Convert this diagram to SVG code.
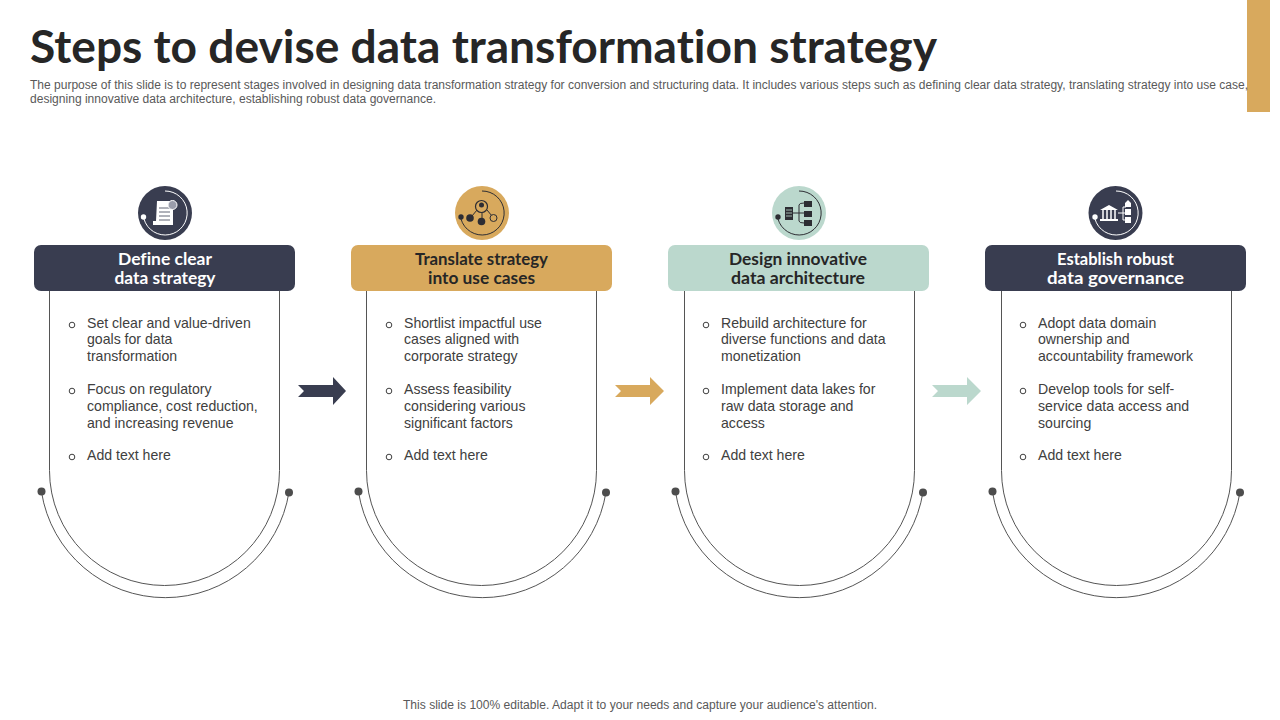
<svg xmlns="http://www.w3.org/2000/svg" width="1280" height="720" viewBox="0 0 1280 720">
<style>
text{font-family:"Liberation Sans",Arial,sans-serif;font-variant-ligatures:none}
.title{font-family:Lato,"Liberation Sans",sans-serif;font-weight:700;font-size:46px;fill:#262626}
.sub{font-size:12px;fill:#595959}
.foot{font-size:12px;fill:#595959}
.head{font-family:Lato,"Liberation Sans",sans-serif;font-weight:700;font-size:17px;text-anchor:middle}
.body{font-size:14.1px;fill:#404040}
.bul{fill:none;stroke:#404040;stroke-width:1}
.line{fill:none;stroke:#555;stroke-width:1}
.dot{fill:#4d4d4d}
</style>
<defs>
<g id="shell">
<path class="line" d="M41.500 492A125.300 125.300 0 0 0 289 492"/>
<circle class="dot" cx="41.500" cy="491.500" r="4"/>
<circle class="dot" cx="289" cy="492.500" r="4"/>
<circle class="bul" cx="72" cy="325" r="2.800"/>
<circle class="bul" cx="72" cy="391" r="2.800"/>
<circle class="bul" cx="72" cy="457" r="2.800"/>
</g>
<path id="panel" class="line" d="M49.500 291V470.500A115 115 0 0 0 279.500 470.500V291"/>
</defs>
<rect x="1247" y="0" width="23" height="112" fill="#d8a95d"/>
<text class="title" x="30" y="63" textLength="907" lengthAdjust="spacingAndGlyphs">Steps to devise data transformation strategy</text>
<text class="sub" x="30" y="89" textLength="1218" lengthAdjust="spacingAndGlyphs">The purpose of this slide is to represent stages involved in designing data transformation strategy for conversion and structuring data. It includes various steps such as defining clear data strategy, translating strategy into use case,</text>
<text class="sub" x="30" y="103" textLength="406" lengthAdjust="spacingAndGlyphs">designing innovative data architecture, establishing robust data governance.</text>
<g id="connectors">
<path id="arrow1" d="M298 385H333V377L346 391L333 405V397H298L304 391Z" fill="#393d50"/>
<path id="arrow2" d="M615 385H650V377L664 391L650 405V397H615L621 391Z" fill="#d8a95d"/>
<path id="arrow3" d="M932 385H967V377L981 391L967 405V397H932L938 391Z" fill="#bbd8cd"/>
</g>
<g id="node1">
<use href="#shell"/>
<use href="#panel"/>
<circle cx="165" cy="213" r="27" fill="#393d50"/>
<path d="M165 191A22 22 0 1 1 144 219" fill="none" stroke="#fff" stroke-width="1"/>
<circle cx="143.500" cy="217" r="2.700" fill="#fff"/>
<path d="M157 201H171L173 205V225H153V221H156Z" fill="#fff"/>
<path d="M159 208H170M159 212H170M159 216H170M159 220H170" stroke="#393d50" stroke-width="0.800"/>
<circle cx="172.500" cy="205" r="4.500" fill="#9a9dab" stroke="#fff" stroke-width="1"/>
<rect x="34" y="245" width="261" height="46" rx="7" fill="#393d50"/>
<text class="head" x="165" y="265" fill="#fff" textLength="94" lengthAdjust="spacingAndGlyphs">Define clear</text>
<text class="head" x="165" y="284" fill="#fff" textLength="101" lengthAdjust="spacingAndGlyphs">data strategy</text>
<text class="body" x="87" y="328">Set clear and value-driven</text>
<text class="body" x="87" y="344">goals for data</text>
<text class="body" x="87" y="361">transformation</text>
<text class="body" x="87" y="394">Focus on regulatory</text>
<text class="body" x="87" y="411">compliance, cost reduction,</text>
<text class="body" x="87" y="428">and increasing revenue</text>
<text class="body" x="87" y="460">Add text here</text>
</g>
<g id="node2">
<use href="#shell" x="317"/>
<use href="#panel" x="317"/>
<circle cx="482" cy="213" r="27" fill="#d8a95d"/>
<path d="M482 191A22 22 0 1 1 461 219" fill="none" stroke="#2d2d33" stroke-width="1"/>
<circle cx="461" cy="217" r="2.700" fill="#2d2d33"/>
<path d="M482 212V219M477 210L472 216M487 210L492 216" stroke="#2d2d33" stroke-width="1" fill="none"/>
<circle cx="481.500" cy="206.500" r="6" fill="#d8a95d" stroke="#2d2d33" stroke-width="1.200"/>
<circle cx="481.500" cy="205" r="2.500" fill="#2d2d33"/>
<circle cx="470" cy="218" r="3.800" fill="#2d2d33"/>
<circle cx="481.500" cy="221.500" r="3.800" fill="#2d2d33"/>
<circle cx="493.500" cy="218" r="3.500" fill="#d8a95d" stroke="#2d2d33" stroke-width="1"/>
<rect x="351" y="245" width="261" height="46" rx="7" fill="#d8a95d"/>
<text class="head" x="481.500" y="265" fill="#262626" textLength="133" lengthAdjust="spacingAndGlyphs">Translate strategy</text>
<text class="head" x="481.500" y="284" fill="#262626" textLength="107" lengthAdjust="spacingAndGlyphs">into use cases</text>
<text class="body" x="404" y="328">Shortlist impactful use</text>
<text class="body" x="404" y="344">cases aligned with</text>
<text class="body" x="404" y="361">corporate strategy</text>
<text class="body" x="404" y="394">Assess feasibility</text>
<text class="body" x="404" y="411">considering various</text>
<text class="body" x="404" y="428">significant factors</text>
<text class="body" x="404" y="460">Add text here</text>
</g>
<g id="node3">
<use href="#shell" x="634"/>
<use href="#panel" x="635"/>
<circle cx="799" cy="213" r="27" fill="#bbd8cd"/>
<path d="M799 191A22 22 0 1 1 778 219" fill="none" stroke="#2d2d33" stroke-width="1"/>
<circle cx="778" cy="217" r="2.700" fill="#2d2d33"/>
<rect x="785" y="207" width="8" height="13" fill="#2d2d33"/>
<path d="M786 210H792M786 213H792M786 216H792" stroke="#bbd8cd" stroke-width="0.800"/>
<path d="M793 213H799M799 205V221Q799 223 804 223M799 205Q799 203 804 203M799 213H804" stroke="#2d2d33" stroke-width="1" fill="none"/>
<path d="M804 201H812V207H804ZM804 211H812V217H804ZM804 220H812V226H804Z" fill="#2d2d33"/>
<rect x="668" y="245" width="261" height="46" rx="7" fill="#bbd8cd"/>
<text class="head" x="798" y="265" fill="#262626" textLength="138" lengthAdjust="spacingAndGlyphs">Design innovative</text>
<text class="head" x="798" y="284" fill="#262626" textLength="134" lengthAdjust="spacingAndGlyphs">data architecture</text>
<text class="body" x="721" y="328">Rebuild architecture for</text>
<text class="body" x="721" y="344">diverse functions and data</text>
<text class="body" x="721" y="361">monetization</text>
<text class="body" x="721" y="394">Implement data lakes for</text>
<text class="body" x="721" y="411">raw data storage and</text>
<text class="body" x="721" y="428">access</text>
<text class="body" x="721" y="460">Add text here</text>
</g>
<g id="node4">
<use href="#shell" x="951"/>
<use href="#panel" x="952"/>
<circle cx="1115.500" cy="213" r="27" fill="#393d50"/>
<path d="M1116 191A22 22 0 1 1 1095 219" fill="none" stroke="#fff" stroke-width="1"/>
<circle cx="1095" cy="217" r="2.700" fill="#fff"/>
<path d="M1109 205L1118 210H1100ZM1100 219H1118V221H1100Z" fill="#fff"/>
<path d="M1103 210V219M1107 210V219M1111 210V219M1115 210V219" stroke="#fff" stroke-width="1.500"/>
<path d="M1118 213H1123M1123 207V220H1126M1123 207H1126M1123 213H1126" stroke="#fff" stroke-width="1" fill="none"/>
<path d="M1128 200L1131 203V207H1125V203ZM1125 209H1131V215H1125ZM1125 217H1131V223H1125Z" fill="#fff"/>
<rect x="985" y="245" width="261" height="46" rx="7" fill="#393d50"/>
<text class="head" x="1115.500" y="265" fill="#fff" textLength="117" lengthAdjust="spacingAndGlyphs">Establish robust</text>
<text class="head" x="1115.500" y="284" fill="#fff" textLength="137" lengthAdjust="spacingAndGlyphs">data governance</text>
<text class="body" x="1038" y="328">Adopt data domain</text>
<text class="body" x="1038" y="344">ownership and</text>
<text class="body" x="1038" y="361">accountability framework</text>
<text class="body" x="1038" y="394">Develop tools for self-</text>
<text class="body" x="1038" y="411">service data access and</text>
<text class="body" x="1038" y="428">sourcing</text>
<text class="body" x="1038" y="460">Add text here</text>
</g>
<text class="foot" x="403" y="709" textLength="474" lengthAdjust="spacingAndGlyphs">This slide is 100% editable. Adapt it to your needs and capture your audience's attention.</text>
</svg>
